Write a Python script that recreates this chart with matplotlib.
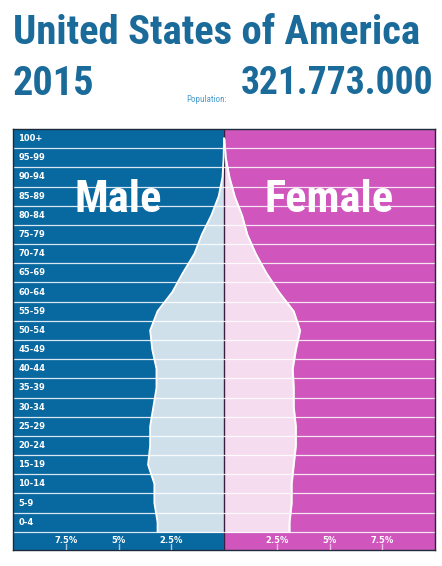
import numpy as np
import matplotlib.pyplot as plt
from matplotlib import font_manager as fm

ages = ['0-4', '5-9', '10-14', '15-19', '20-24', '25-29', '30-34', '35-39', '40-44',
        '45-49', '50-54', '55-59', '60-64', '65-69', '70-74', '75-79', '80-84',
        '85-89', '90-94', '95-99', '100+']
male = [3.15, 3.3, 3.3, 3.6, 3.5, 3.5, 3.35, 3.2, 3.2, 3.4, 3.5, 3.15, 2.45, 1.95,
        1.4, 1.05, 0.6, 0.25, 0.07, 0.02, 0.0]
female = [3.1, 3.2, 3.2, 3.3, 3.4, 3.4, 3.3, 3.3, 3.25, 3.4, 3.6, 3.3, 2.6, 2.0,
          1.5, 1.1, 0.85, 0.5, 0.25, 0.08, 0.01]
ticks = [-7.5, -5, -2.5, 2.5, 5, 7.5]
tick_labels = ['7.5%', '5%', '2.5%', '2.5%', '5%', '7.5%']

blue = '#0868a0'
pink = '#d055bd'
names = {f.name for f in fm.fontManager.ttflist}
narrow = [n for n in ['Liberation Sans Narrow', 'DejaVu Sans Condensed', 'Roboto Condensed']
          if n in names] + ['DejaVu Sans']
cond = narrow[0] != 'DejaVu Sans'

fig = plt.figure(figsize=(4.42, 5.66), dpi=100)
ax = fig.add_axes([13 / 442, 1 - 550 / 566, 422 / 442, 421 / 566])
n = len(ages)
ybot = -1.45
ax.set_xlim(-10, 10)
ax.set_ylim(ybot, n - 0.5)
ax.axvspan(-10, 0, color=blue, zorder=0)
ax.axvspan(0, 10, color=pink, zorder=0)

y = np.arange(n)
ym = np.concatenate([[-0.5], y])
m = np.concatenate([[male[0]], male])
f = np.concatenate([[female[0]], female])
ax.fill_betweenx(ym, -m, 0, color='#cfe0eb', zorder=1)
ax.fill_betweenx(ym, 0, f, color='#f5dcef', zorder=1)
ax.plot(-m, ym, color='white', lw=1.3, zorder=3)
ax.plot(f, ym, color='white', lw=1.3, zorder=3)
ax.axvline(0, color='#3a2040', lw=1, zorder=2)

for b in np.arange(-0.5, n - 0.5):
    ax.axhline(b, color='white', lw=0.9, alpha=0.85, zorder=2)
for i, a in enumerate(ages):
    ax.text(-9.75, i, a, color='white', fontsize=6, fontweight='bold', va='center',
            ha='left', zorder=4)

for t, lab in zip(ticks, tick_labels):
    ax.plot([t, t], [ybot, ybot + 0.3], color='#aac8dd' if t < 0 else '#eebde4', lw=1, zorder=4)
    ax.text(t, -0.95, lab, color='white', fontsize=6, fontweight='bold', ha='center',
            va='center', zorder=4)

k = 1.0 if cond else 0.78
ax.text(-5, 16.8, 'Male', color='white', fontsize=32 * k, fontweight='bold', ha='center',
        va='center', family=narrow, zorder=4)
ax.text(5, 16.8, 'Female', color='white', fontsize=32 * k, fontweight='bold', ha='center',
        va='center', family=narrow, zorder=4)

ax.set_xticks([])
ax.set_yticks([])
for s in ax.spines.values():
    s.set_color('#1c2a3a')
    s.set_linewidth(1)

tc = '#1a6a9a'
fig.text(13 / 442, 1 - 33 / 566, 'United States of America', color=tc, fontsize=29.3 * k,
         fontweight='bold', family=narrow, va='center', ha='left')
fig.text(13 / 442, 1 - 84 / 566, '2015', color=tc, fontsize=29 * k, fontweight='bold',
         family=narrow, va='center', ha='left')
fig.text(186 / 442, 1 - 100 / 566, 'Population:', color='#4a9acc', fontsize=6.5,
         family=narrow, va='center', ha='left')
fig.text(433 / 442, 1 - 84 / 566, '321.773.000', color=tc, fontsize=27 * k,
         fontweight='bold', family=narrow, va='center', ha='right')

plt.savefig('out.png', dpi=100)
